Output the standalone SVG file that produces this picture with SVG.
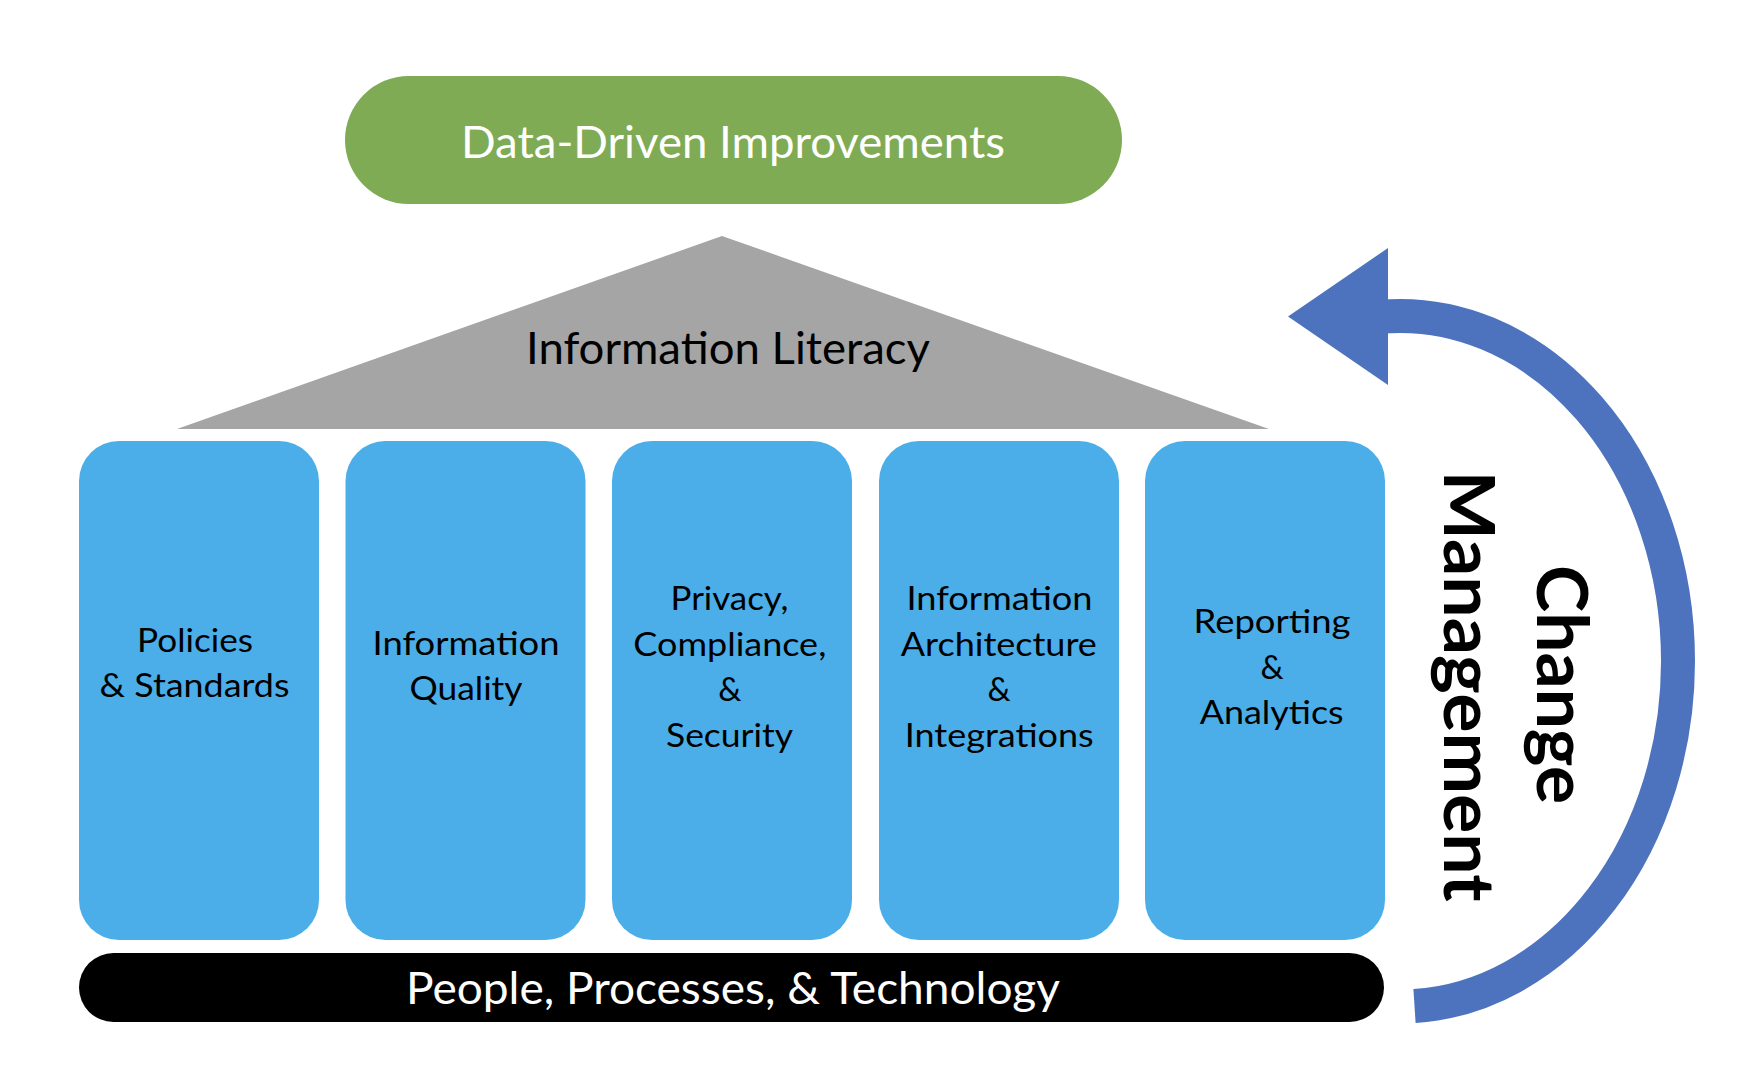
<svg xmlns="http://www.w3.org/2000/svg" width="1756" height="1084" viewBox="0 0 1756 1084">
  <style>
    .t { font-family: Lato, "Open Sans", "Liberation Sans", sans-serif; text-anchor: middle; }
    .box { fill: #4BAEE8; }
    .bt { font-size: 32.5px; fill: #000; }
    .big { font-size: 44.5px; }
    .cm { font-size: 70px; font-weight: bold; fill: #000; }
    .arc { fill: none; stroke: #4E73BE; stroke-width: 34; stroke-linecap: butt; }
  </style>
  <rect width="1756" height="1084" fill="#ffffff"/>

  <g id="connectors">
    <path class="arc" d="M 1414.5 1006 A 278 345 0 0 0 1678 661 A 278 345 0 0 0 1380 316.9"/>
    <polygon points="1288,316.5 1388,248 1388,385" fill="#4E73BE"/>
  </g>

  <g id="data-driven">
    <rect x="345" y="76" width="777" height="128" rx="64" ry="64" fill="#7FAB55"/>
    <text class="t big" x="733" y="158" fill="#ffffff" textLength="544" lengthAdjust="spacingAndGlyphs">Data-Driven Improvements</text>
  </g>

  <g id="info-literacy">
    <polygon points="722,236 177,429 1269,429" fill="#A5A5A5"/>
    <text class="t big" x="728" y="364" fill="#000" textLength="404" lengthAdjust="spacingAndGlyphs">Information Literacy</text>
  </g>

  <g id="policies">
    <rect class="box" x="79" y="441" width="240" height="499" rx="40" ry="40"/>
    <text class="t bt" x="195" y="652" textLength="116" lengthAdjust="spacingAndGlyphs">Policies</text>
    <text class="t bt" x="194.5" y="697" textLength="190" lengthAdjust="spacingAndGlyphs">&amp; Standards</text>
  </g>

  <g id="quality">
    <rect class="box" x="345.5" y="441" width="240" height="499" rx="40" ry="40"/>
    <text class="t bt" x="466" y="655" textLength="187" lengthAdjust="spacingAndGlyphs">Information</text>
    <text class="t bt" x="466" y="700" textLength="113" lengthAdjust="spacingAndGlyphs">Quality</text>
  </g>

  <g id="privacy">
    <rect class="box" x="612" y="441" width="240" height="499" rx="40" ry="40"/>
    <text class="t bt" x="729.5" y="610" textLength="118" lengthAdjust="spacingAndGlyphs">Privacy,</text>
    <text class="t bt" x="729.8" y="655.5" textLength="193" lengthAdjust="spacingAndGlyphs">Compliance,</text>
    <text class="t bt" x="729.8" y="701">&amp;</text>
    <text class="t bt" x="729.5" y="746.5" textLength="127" lengthAdjust="spacingAndGlyphs">Security</text>
  </g>

  <g id="architecture">
    <rect class="box" x="879" y="441" width="240" height="499" rx="40" ry="40"/>
    <text class="t bt" x="999.4" y="610" textLength="186" lengthAdjust="spacingAndGlyphs">Information</text>
    <text class="t bt" x="998.8" y="655.5" textLength="196" lengthAdjust="spacingAndGlyphs">Architecture</text>
    <text class="t bt" x="999" y="701">&amp;</text>
    <text class="t bt" x="999.2" y="746.5" textLength="189" lengthAdjust="spacingAndGlyphs">Integrations</text>
  </g>

  <g id="reporting">
    <rect class="box" x="1145" y="441" width="240" height="499" rx="40" ry="40"/>
    <text class="t bt" x="1272" y="633.3" textLength="157" lengthAdjust="spacingAndGlyphs">Reporting</text>
    <text class="t bt" x="1272" y="678.5">&amp;</text>
    <text class="t bt" x="1271.7" y="724" textLength="144" lengthAdjust="spacingAndGlyphs">Analytics</text>
  </g>

  <g id="foundation">
    <rect x="79" y="953" width="1305" height="69" rx="34.5" ry="34.5" fill="#000000"/>
    <text class="t big" x="733" y="1004" fill="#ffffff" textLength="654" lengthAdjust="spacingAndGlyphs">People, Processes, &amp; Technology</text>
  </g>

  <g id="change-management">
    <text class="t cm" transform="translate(1537,684.5) rotate(90)" textLength="239" lengthAdjust="spacingAndGlyphs">Change</text>
    <text class="t cm" transform="translate(1444,686) rotate(90)" textLength="431" lengthAdjust="spacingAndGlyphs">Management</text>
  </g>
</svg>
